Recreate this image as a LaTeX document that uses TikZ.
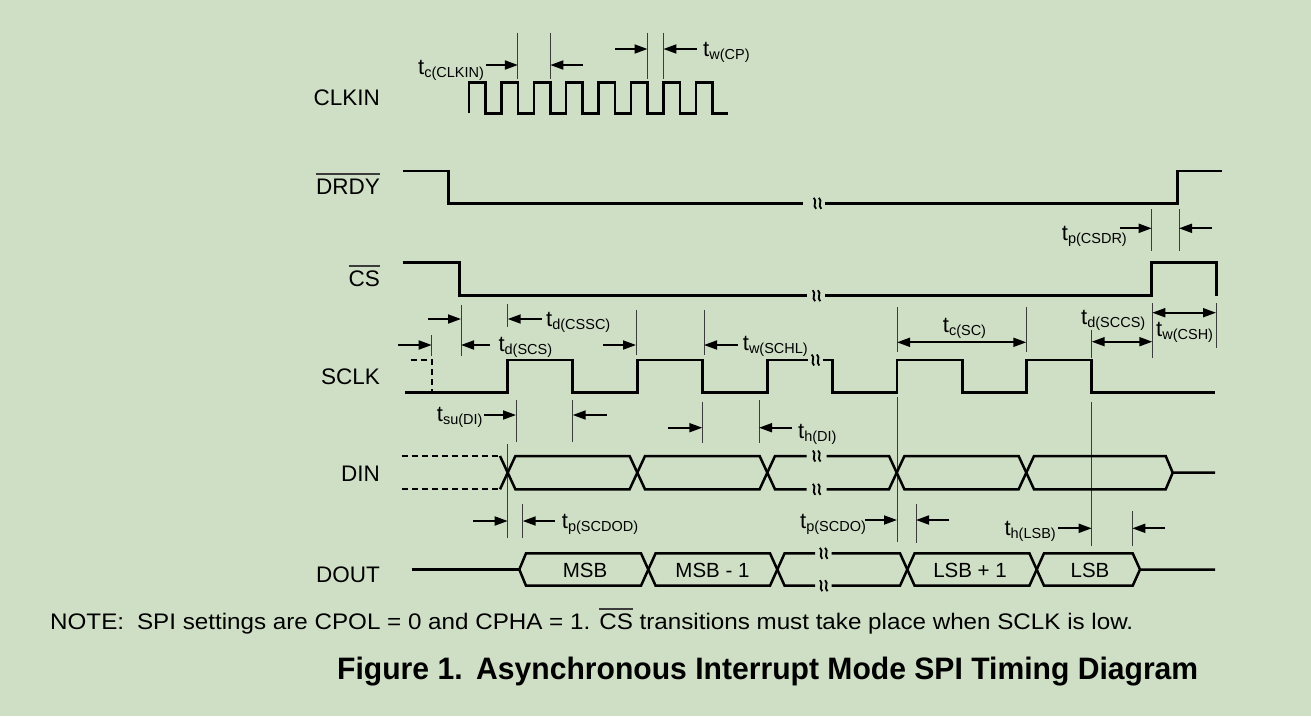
\documentclass[tikz,border=0pt]{standalone}
\usepackage{fontspec}
\setmainfont{Liberation Sans}
\usetikzlibrary{arrows.meta}
\definecolor{bg}{RGB}{207,223,197}
\definecolor{tk}{RGB}{60,60,60}
\newsavebox\ovbox
\newcommand\ovl[1]{\sbox\ovbox{#1}\makebox[0pt][l]{\raisebox{\dimexpr\ht\ovbox+4pt\relax}{\color{tk}\rule{\wd\ovbox}{1.6pt}}}\usebox\ovbox}
\newcommand\tl[1]{{\fontsize{22}{22}\selectfont t}\raisebox{-3pt}{\fontsize{14.5}{14.5}\selectfont #1}}
\tikzset{
 sig/.style={line width=2.5pt},
 dsig/.style={line width=2.2pt, dash pattern=on 6pt off 4pt},
 tick/.style={line width=1pt, tk},
 arr/.style={line width=1.8pt, -{Triangle[length=13pt,width=9pt]}},
 darr/.style={line width=1.8pt, {Triangle[length=13pt,width=9pt]}-{Triangle[length=13pt,width=9pt]}},
 tlab/.style={anchor=base west, inner sep=0pt},
 slab/.style={anchor=base east, inner sep=0pt, font=\fontsize{22.5}{22.5}\selectfont},
 dlab/.style={anchor=base, inner sep=0pt, font=\fontsize{20.5}{20.5}\selectfont},
 brk/.pic={\foreach \d in {-2.6,2.6}{\draw[line width=1.8pt] ({\d-1.2},-5.5) .. controls ({\d+3},-2) and ({\d-3},2) .. ({\d+1.2},5.5);}}
}
\begin{document}
\begin{tikzpicture}[x=1pt,y=-1pt]
\useasboundingbox (0,0) rectangle (1311,716);
\fill[bg] (0,0) rectangle (1311,716);

% signal labels
\node[slab] (lclk) at (380,105.7) {CLKIN};
\node[slab] (ldrdy) at (380,194.3) {\ovl{DRDY}};
\node[slab] (lcs) at (380,286.3) {\ovl{CS}};
\node[slab] (lsclk) at (380,384) {SCLK};
\node[slab] (ldin) at (380,481) {DIN};
\node[slab] (ldout) at (380,582) {DOUT};

% CLKIN
\draw[sig] (469,113.3) \foreach \i in {0,...,7}{ -- ({469+32.4*\i},82.3) -- ({485.5+32.4*\i},82.3) -- ({485.5+32.4*\i},113.3) -- ({501.4+32.4*\i},113.3)};
\draw[tick] (517.9,32.7) -- (517.9,79) (550.3,32.7) -- (550.3,79);
\draw[arr] (486,65) -- (517.9,65);
\draw[arr] (583,65) -- (550.3,65);
\node[tlab] (tclk) at (418,74) {\tl{c(CLKIN)}};
\draw[tick] (647.5,32.7) -- (647.5,79) (663.4,32.7) -- (663.4,79);
\draw[arr] (615,49) -- (647.5,49);
\draw[arr] (697,49) -- (663.4,49);
\node[tlab] (tcp) at (703,56.7) {\tl{w(CP)}};

% DRDY
\draw[sig] (402.7,171) -- (448.3,171) -- (448.3,203.3) -- (803.3,203.3);
\pic at (817.5,203.3) {brk};
\draw[sig] (825,203.3) -- (1177.7,203.3) -- (1177.7,171) -- (1221.7,171);

% tp(CSDR)
\draw[tick] (1151.7,209) -- (1151.7,250.7) (1179,209) -- (1179,250.7);
\draw[arr] (1120,228.3) -- (1151.7,228.3);
\draw[arr] (1211.7,228.3) -- (1179,228.3);
\node[tlab] (tcsdr) at (1061.7,240) {\tl{p(CSDR)}};

% CS
\draw[sig] (402.7,262.7) -- (459.3,262.7) -- (459.3,295.7) -- (806.7,295.7);
\pic at (816.5,295.7) {brk};
\draw[sig] (825,295.7) -- (1151.7,295.7) -- (1151.7,262.7) -- (1216.7,262.7) -- (1216.7,295.7);

% SCLK
\draw[dsig] (410.7,360) -- (431.7,360) -- (431.7,392.3);
\draw[sig] (405,392.3) -- (507.3,392.3) -- (507.3,360) -- (572.7,360) -- (572.7,392.3) -- (637.3,392.3) -- (637.3,360) -- (702.3,360) -- (702.3,392.3) -- (767.3,392.3) -- (767.3,360) -- (808.3,360);
\pic at (815.5,360) {brk};
\draw[sig] (823,360) -- (832.3,360) -- (832.3,392.3) -- (897,392.3) -- (897,360) -- (962.3,360) -- (962.3,392.3) -- (1026.3,392.3) -- (1026.3,360) -- (1091.7,360) -- (1091.7,392.3) -- (1215,392.3);

% td(SCS), td(CSSC)
\draw[tick] (431.7,335) -- (431.7,356);
\draw[arr] (398.3,345) -- (431.7,345);
\draw[tick] (461,305) -- (461,356);
\draw[arr] (490,345) -- (461,345);
\node[tlab] (tscs) at (498.3,351) {\tl{d(SCS)}};
\draw[arr] (428.3,319) -- (461,319);
\draw[tick] (507.7,304) -- (507.7,326.7);
\draw[arr] (541.7,319) -- (507.7,319);
\node[tlab] (tcssc) at (546,326) {\tl{d(CSSC)}};

% tw(SCHL)
\draw[tick] (636,310) -- (636,355) (704,310) -- (704,355);
\draw[arr] (603.3,345) -- (636,345);
\draw[arr] (738,345) -- (704,345);
\node[tlab] (tschl) at (742.7,350) {\tl{w(SCHL)}};

% tc(SC)
\draw[tick] (897,307) -- (897,351.7) (1026.3,307) -- (1026.3,351.7);
\draw[darr] (897,342.3) -- (1026.3,342.3);
\node[tlab] (tsc) at (942.7,332) {\tl{c(SC)}};

% td(SCCS), tw(CSH)
\draw[tick] (1091.7,330) -- (1091.7,358);
\draw[darr] (1091.7,341.7) -- (1152.3,341.7);
\node[tlab] (tsccs) at (1081,324) {\tl{d(SCCS)}};
\draw[tick] (1152.3,303) -- (1152.3,358) (1216,303) -- (1216,347.7);
\draw[darr] (1152.3,312.7) -- (1216,312.7);
\node[tlab] (tcsh) at (1156,336.7) {\tl{w(CSH)}};

% tsu(DI), th(DI)
\draw[tick] (516,400) -- (516,441.7) (572.7,400) -- (572.7,441.7);
\draw[arr] (484.3,415) -- (516,415);
\draw[arr] (606.7,415) -- (572.7,415);
\node[tlab] (tsu) at (436.7,421.7) {\tl{su(DI)}};
\draw[tick] (702.3,401.7) -- (702.3,443.3) (759,400) -- (759,443.3);
\draw[arr] (668.3,427.7) -- (702.3,427.7);
\draw[arr] (791.7,427.7) -- (759,427.7);
\node[tlab] (thdi) at (798,438) {\tl{h(DI)}};

% long reference lines
\draw[tick] (507.7,444) -- (507.7,537.7);
\draw[tick] (897,397) -- (897,541.7);
\draw[tick] (1091.7,402) -- (1091.7,546);

% DIN
\draw[dsig] (401.7,456) -- (500,456) (401.7,489.3) -- (500,489.3);
\draw[sig] (500,456) -- (515.4,489.3) -- (629.6,489.3) -- (645,456) -- (759.6,456) -- (775,489.3) -- (806.7,489.3);
\draw[sig] (500,489.3) -- (515.4,456) -- (629.6,456) -- (645,489.3) -- (759.6,489.3) -- (775,456) -- (806.7,456);
\pic at (816.7,456) {brk};
\pic at (816.7,489.3) {brk};
\draw[sig] (826.7,456) -- (889,456) -- (904.4,489.3) -- (1018.6,489.3) -- (1034,456) -- (1165.7,456) -- (1172.7,472.7) -- (1215,472.7);
\draw[sig] (826.7,489.3) -- (889,489.3) -- (904.4,456) -- (1018.6,456) -- (1034,489.3) -- (1165.7,489.3) -- (1172.7,472.7);

% tp(SCDOD), tp(SCDO), th(LSB)
\draw[arr] (473.3,521) -- (507.7,521);
\draw[tick] (522.7,504.3) -- (522.7,537.7);
\draw[arr] (555,521) -- (522.7,521);
\node[tlab] (tscdod) at (561.7,528) {\tl{p(SCDOD)}};
\draw[arr] (865,520) -- (897,520);
\draw[tick] (916,504.3) -- (916,542.7);
\draw[arr] (949.3,520) -- (916,520);
\node[tlab] (tscdo) at (800,528) {\tl{p(SCDO)}};
\draw[arr] (1058.3,528.3) -- (1091.7,528.3);
\draw[tick] (1132.3,511) -- (1132.3,546);
\draw[arr] (1165,528.3) -- (1132.3,528.3);
\node[tlab] (tlsb) at (1004.3,535.7) {\tl{h(LSB)}};

% DOUT
\draw[sig] (411.7,569.5) -- (519.3,569.5);
\draw[sig] (519.3,569.5) -- (526,553.3) -- (641,553.3) -- (655.6,585.7) -- (770,585.7) -- (784.6,553.3) -- (815,553.3);
\draw[sig] (519.3,569.5) -- (526,585.7) -- (641,585.7) -- (655.6,553.3) -- (770,553.3) -- (784.6,585.7) -- (815,585.7);
\pic at (823.7,553.3) {brk};
\pic at (823.7,585.7) {brk};
\draw[sig] (831.7,553.3) -- (900,553.3) -- (914.6,585.7) -- (1029.4,585.7) -- (1044,553.3) -- (1132.7,553.3) -- (1140,569.5) -- (1215,569.5);
\draw[sig] (831.7,585.7) -- (900,585.7) -- (914.6,553.3) -- (1029.4,553.3) -- (1044,585.7) -- (1132.7,585.7) -- (1140,569.5);
\node[dlab] (dmsb) at (585,577) {MSB};
\node[dlab] (dmsb1) at (712.5,577) {MSB - 1};
\node[dlab] (dlsb1) at (970,577) {LSB + 1};
\node[dlab] (dlsb) at (1090,577) {LSB};

% note and title
\node[anchor=base west, inner sep=0pt, font=\fontsize{22.5}{22.5}\selectfont] (note) at (50,629.3) {\resizebox{1083pt}{\height}{NOTE:\hspace{12pt}SPI settings are CPOL = 0 and CPHA = 1. \ovl{CS} transitions must take place when SCLK is low.}};
\node[anchor=base west, inner sep=0pt, font=\fontsize{31}{31}\selectfont\bfseries] (title) at (337,679) {\resizebox{861pt}{\height}{Figure 1.\hspace{14pt}Asynchronous Interrupt Mode SPI Timing Diagram}};
\end{tikzpicture}
\end{document}
